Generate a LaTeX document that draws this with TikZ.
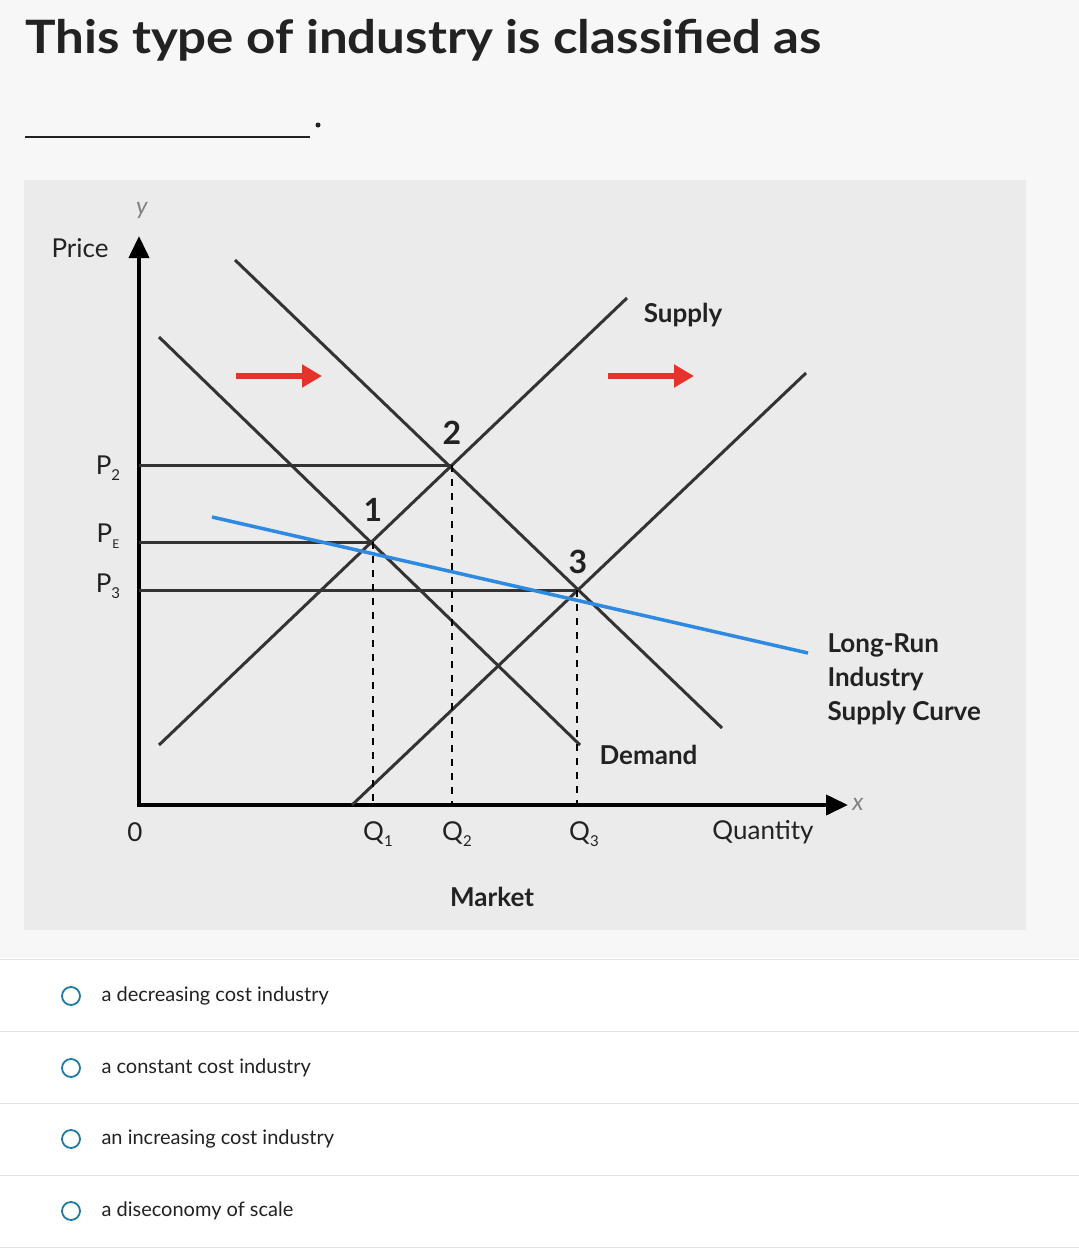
\documentclass[tikz,border=0pt]{standalone}
\usepackage{fontspec}
\setmainfont{Lato}
\usetikzlibrary{arrows.meta}
\definecolor{pagebg}{HTML}{F7F7F7}
\definecolor{panel}{HTML}{EBEBEB}
\definecolor{ink}{HTML}{222222}
\definecolor{curve}{HTML}{333333}
\definecolor{lrblue}{HTML}{2D8AE0}
\definecolor{redar}{HTML}{E5322B}
\definecolor{teal}{HTML}{1E7BA3}
\definecolor{sep}{HTML}{E2E2E2}
\newcommand{\sbs}[1]{\raisebox{-0.45ex}{\fontsize{15}{15}\selectfont #1}}
\begin{document}
\begin{tikzpicture}[x=1pt,y=-1pt,
  crv/.style={draw=curve,line width=3pt},
  lvl/.style={draw=curve,line width=3pt},
  dsh/.style={draw=black,line width=1.6pt,dash pattern=on 7pt off 7pt},
  lab/.style={font=\fontsize{25}{28}\selectfont\bfseries,text=ink},
  ax/.style={font=\fontsize{26}{30}\selectfont,text=ink},
  opt/.style={font=\fontsize{20}{24}\selectfont,text=ink,anchor=west},
  radio/.style={draw=teal,line width=1.8pt,circle,minimum size=18pt,inner sep=0pt},
  rarrow/.style={draw=redar,line width=6pt,-{Triangle[length=20pt,width=22pt]}}]
\useasboundingbox (0,0) rectangle (1079,1248);
\fill[pagebg] (0,0) rectangle (1079,958);
\fill[white] (0,958) rectangle (1079,1248);
\node[anchor=base west,inner sep=0,xscale=1.11,font=\fontsize{46}{50}\selectfont\bfseries,text=ink] (title) at (25,53) {This type of industry is classified as};
\draw[ink,line width=2pt] (25,137) -- (310,137);
\fill[ink] (318,125) circle (2.5pt);
\fill[panel] (24,180) rectangle (1026,930);
% axes
\draw[black,line width=4pt,-{Triangle[length=22pt,width=20pt]}] (139,807) -- (139,236);
\draw[black,line width=4pt,-{Triangle[length=22pt,width=20pt]}] (137,805) -- (848,805);
\node[font=\fontsize{24}{28}\selectfont\itshape,text=gray] (yl) at (142,210) {y};
\node[font=\fontsize{24}{28}\selectfont\itshape,text=gray] (xl) at (858,804) {x};
% curves
\draw[crv] (159,337) -- (580,745);
\draw[crv] (235,260) -- (722,728);
\draw[crv] (159,745) -- (627,298);
\draw[crv] (352,805) -- (806,373);
% price levels
\draw[lvl] (139,465) -- (452,465);
\draw[lvl] (139,542) -- (373,542);
\draw[lvl] (139,590) -- (577,590);
\draw[dsh] (373,542) -- (373,805);
\draw[dsh] (452,465) -- (452,805);
\draw[dsh] (577,590) -- (577,805);
\draw[lrblue,line width=3.5pt] (212,517) -- (808,653);
\draw[rarrow] (236,376) -- (322,376);
\draw[rarrow] (608,376) -- (694,376);
% labels
\node[ax] (price) at (80,248) {Price};
\node[lab,font=\fontsize{32}{34}\selectfont\bfseries] (n1) at (373,510) {1};
\node[lab,font=\fontsize{32}{34}\selectfont\bfseries] (n2) at (452,433) {2};
\node[lab,font=\fontsize{32}{34}\selectfont\bfseries] (n3) at (578,562) {3};
\node[ax] (p2) at (108,468) {P\sbs{2}};
\node[ax] (pe) at (108,536) {P\sbs{\fontsize{12}{12}\selectfont E}};
\node[ax] (p3) at (108,586) {P\sbs{3}};
\node[ax] (zero) at (135,832) {0};
\node[ax] (q1) at (378,834) {Q\sbs{1}};
\node[ax] (q2) at (457,834) {Q\sbs{2}};
\node[ax] (q3) at (584,834) {Q\sbs{3}};
\node[ax] (qty) at (763,832) {Quantity};
\node[lab,font=\fontsize{26}{30}\selectfont\bfseries] (mkt) at (492,897) {Market};
\node[lab,font=\fontsize{26}{30}\selectfont\bfseries] (sup) at (683,315) {Supply};
\node[lab,font=\fontsize{26}{30}\selectfont\bfseries,anchor=west] (dem) at (596,755) {Demand};
\node[lab,anchor=north west,align=left,font=\fontsize{26}{34}\selectfont\bfseries] (lr) at (824,630) {Long-Run\\Industry\\Supply Curve};
% options
\foreach \y in {959,1031,1103,1175,1247} \draw[sep,line width=1pt] (0,\y) -- (1079,\y);
\node[radio] (r1) at (71,996) {};
\node[radio] (r2) at (71,1068) {};
\node[radio] (r3) at (71,1139) {};
\node[radio] (r4) at (71,1211) {};
\node[opt] (o1) at (98,996) {a decreasing cost industry};
\node[opt] (o2) at (98,1068) {a constant cost industry};
\node[opt] (o3) at (98,1139) {an increasing cost industry};
\node[opt] (o4) at (98,1211) {a diseconomy of scale};
\end{tikzpicture}
\end{document}
